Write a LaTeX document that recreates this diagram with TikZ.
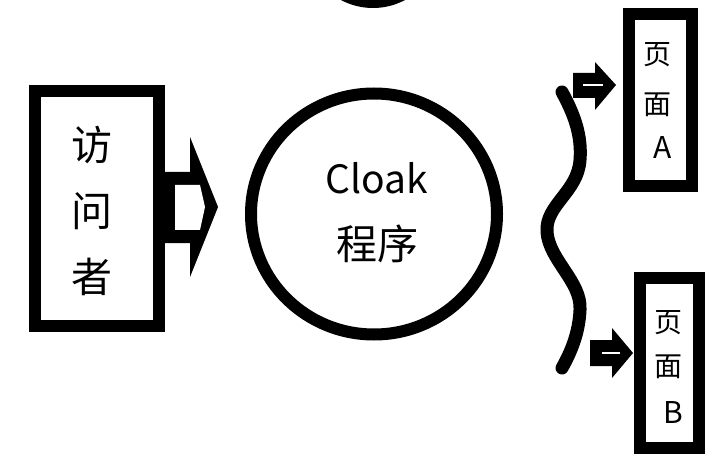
\documentclass[tikz,border=0pt]{standalone}
\usepackage{fontspec}
\setmainfont{Noto Sans CJK SC}
\usetikzlibrary{shapes.geometric}
\tikzset{
  thickbox/.style={draw=black,line width=12pt,fill=white,inner sep=0pt},
  lbl/.style={inner sep=0pt,text=black},
  blockarrow/.style={fill=black,draw=none},
  hole/.style={fill=white,draw=none},
}
\begin{document}
\begin{tikzpicture}[x=1pt,y=-1pt]
\useasboundingbox (0,0) rectangle (720,473);
\fill[white] (0,0) rectangle (720,473);
% partial circle at top
\draw[line width=12pt] (373,-60) circle[radius=62];
% visitor box
\node[thickbox,minimum width=124pt,minimum height=235pt] (visitor) at (97,208.5) {};
\node[lbl,font=\fontsize{41}{41}\selectfont] (v1) at (92,145) {访};
\node[lbl,font=\fontsize{41}{41}\selectfont] (v2) at (92,211) {问};
\node[lbl,font=\fontsize{41}{41}\selectfont] (v3) at (92,277) {者};
% cloak circle
\node[thickbox,ellipse,minimum width=246pt,minimum height=241pt] (cloak) at (374,214) {};
\node[lbl,font=\fontsize{39}{39}\selectfont] (c1) at (377,178) {Cloak};
\node[lbl,font=\fontsize{41}{41}\selectfont] (c2) at (377,244) {程序};
% big hollow arrow
\fill[blockarrow] (165,172) -- (190,172) -- (190,137) -- (218,207) -- (190,277) -- (190,243) -- (165,243) -- cycle;
\fill[hole] (175,185) -- (200,185) -- (205,207) -- (200,230) -- (175,230) -- cycle;
% wave
\draw[line width=13pt,line cap=round] (562,92) .. controls (574,114) and (582,135) .. (580,160)
  .. controls (578,192) and (545,205) .. (547,232)
  .. controls (549,260) and (582,282) .. (580,310)
  .. controls (579,333) and (571,352) .. (562,368);
% page A
\node[thickbox,minimum width=63pt,minimum height=172pt] (pageA) at (660.5,100) {};
\node[lbl,font=\fontsize{28}{28}\selectfont] (a1) at (657,55) {页};
\node[lbl,font=\fontsize{28}{28}\selectfont] (a2) at (657,105) {面};
\node[lbl,font=\fontsize{30}{30}\selectfont] (a3) at (663,148) {A};
% page B
\node[thickbox,minimum width=59pt,minimum height=170pt] (pageB) at (669.5,363) {};
\node[lbl,font=\fontsize{28}{28}\selectfont] (b1) at (668,323) {页};
\node[lbl,font=\fontsize{28}{28}\selectfont] (b2) at (668,367) {面};
\node[lbl,font=\fontsize{30}{30}\selectfont] (b3) at (673,413) {B};
% small arrows
\fill[blockarrow] (573,73) -- (595,73) -- (595,62) -- (616,85) -- (595,110) -- (595,98) -- (573,98) -- cycle;
\draw[white,line width=2pt] (583,85) -- (603,85);
\fill[blockarrow] (590,340) -- (612,340) -- (612,328) -- (633,353) -- (612,378) -- (612,366) -- (590,366) -- cycle;
\draw[white,line width=2pt] (602,353) -- (620,353);
\end{tikzpicture}
\end{document}
